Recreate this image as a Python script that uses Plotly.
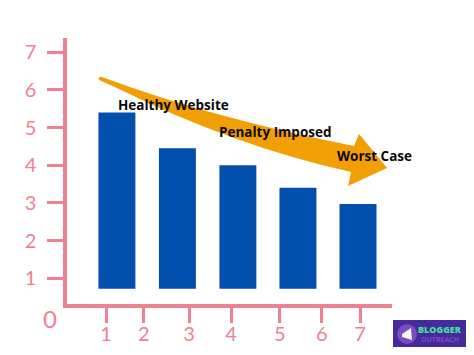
import plotly.graph_objects as go

W, H = 474, 355

# Data
bar_labels = ["Healthy Website", "", "Penalty Imposed", "", "Worst Case"]
bar_positions = [1.26, 2.70, 4.14, 5.57, 7.00]
bar_tops = [5.40, 4.45, 4.00, 3.40, 2.97]
bar_base = 0.72
x_tick_values = [1.0, 1.9, 2.98, 3.98, 5.14, 6.14, 7.05]
x_tick_text = ["1", "2", "3", "4", "5", "6", "7"]
y_tick_values = [1, 2, 3, 4, 5, 6, 7]
y_tick_text = ["1", "2", "3", "4", "5", "6", "7"]

PINK = "#EF8291"
BLUE = "#034FAE"
ORANGE = "#F29F05"


def px(x):
    return x / W


def py(y):
    return 1 - y / H


def p(x, y):
    return f"{px(x):.4f},{py(y):.4f}"


def path(points):
    return "M " + " L ".join(p(x, y) for x, y in points) + " Z"


arrow_path = (
    f"M {p(99, 80)} Q {p(98, 76)} {p(102, 77)} "
    f"Q {p(212, 118)} {p(354, 146)} "
    f"L {p(359, 134)} L {p(387, 168)} L {p(348, 186)} L {p(351, 172)} "
    f"Q {p(234, 146)} {p(117, 88)} Z"
)

fig = go.Figure(
    go.Bar(
        x=bar_positions,
        y=[t - bar_base for t in bar_tops],
        base=bar_base,
        width=0.88,
        marker=dict(color=BLUE, line_width=0),
        hoverinfo="skip",
    )
)

fig.update_layout(
    width=W,
    height=H,
    margin=dict(l=0, r=0, t=0, b=0),
    paper_bgcolor="white",
    plot_bgcolor="white",
    showlegend=False,
    xaxis=dict(
        domain=[px(67), px(392)],
        range=[(67 - 64) / 42, (392 - 64) / 42],
        tickmode="array",
        tickvals=x_tick_values,
        ticktext=x_tick_text,
        ticks="outside",
        ticklen=15,
        tickwidth=2.5,
        tickcolor=PINK,
        showline=True,
        linecolor=PINK,
        linewidth=3.5,
        showgrid=False,
        zeroline=False,
        ticklabelstandoff=-6,
        tickfont=dict(family="Lato", size=20, color=PINK),
    ),
    yaxis=dict(
        domain=[py(304), py(38)],
        range=[(316 - 304) / 37.7, (316 - 38) / 37.7],
        tickmode="array",
        tickvals=y_tick_values,
        ticktext=y_tick_text,
        ticks="outside",
        ticklen=16,
        tickwidth=2.5,
        tickcolor=PINK,
        showline=True,
        linecolor=PINK,
        linewidth=3.5,
        showgrid=False,
        zeroline=False,
        ticklabelstandoff=7,
        tickfont=dict(family="Lato", size=20, color=PINK),
    ),
    shapes=[
        dict(type="path", xref="paper", yref="paper", path=arrow_path,
             fillcolor=ORANGE, line_width=0, layer="above"),
        # Logo badge
        dict(type="rect", xref="paper", yref="paper", x0=px(393), x1=px(466),
             y0=py(347), y1=py(320), fillcolor="#46299A", line_width=0, layer="above"),
        dict(type="circle", xref="paper", yref="paper", x0=px(397), x1=px(417),
             y0=py(344), y1=py(324), fillcolor="#7A4CC0", line_width=0, layer="above"),
        dict(type="path", xref="paper", yref="paper",
             path=path([(402, 334), (411, 328), (412, 340), (402, 337)]),
             fillcolor="#F2F2F8", line_width=0, layer="above"),
    ],
)


def note(text, x, y, size, color, family="Open Sans", weight=700):
    fig.add_annotation(
        xref="paper", yref="paper", x=px(x), y=py(y), text=text, showarrow=False,
        xanchor="center", yanchor="middle", borderpad=0,
        font=dict(family=family, size=size, color=color, weight=weight),
    )


note(bar_labels[0], 173, 105, 13.5, "#0A0A0A")
note(bar_labels[2], 275, 132, 13.5, "#0A0A0A")
note(bar_labels[4], 374, 156, 13.5, "#0A0A0A")
note("0", 50, 318, 24, PINK, family="Lato", weight=400)
note("BLOGGER", 440, 329, 9, "#3FE0A0", weight=800)
note("OUTREACH", 440, 339.5, 7, "#7A4CC0")

fig.write_html(
    "out.html",
    config={"displayModeBar": False},
    post_script="document.body.style.margin='0';",
)
